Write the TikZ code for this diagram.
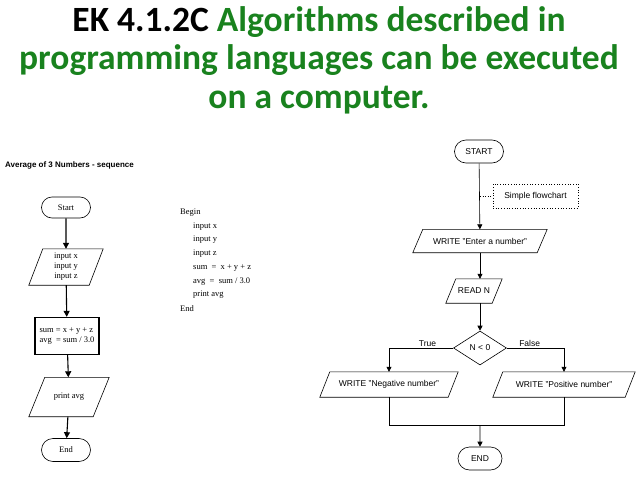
\documentclass[tikz,border=0pt]{standalone}
\usepackage{fontspec}
\setmainfont{Liberation Serif}
\setsansfont{Liberation Sans}
\newfontfamily\titlefont{Carlito}
\usetikzlibrary{shapes.geometric,shapes.misc,arrows.meta}
\definecolor{tgreen}{RGB}{25,130,30}
\tikzset{
  every node/.style={inner sep=0pt},
  arr/.style={-{Triangle[length=5pt,width=5pt]}, line width=0.6pt},
  larr/.style={-{Triangle[length=6pt,width=6pt]}, line width=1.1pt},
  ln/.style={line width=0.6pt},
  term/.style={draw, rounded rectangle, line width=0.6pt},
  para/.style={align=center},
  lserif/.style={font=\fontsize{8.5}{10}\selectfont, align=center},
  rsans/.style={font=\sffamily\fontsize{8.5}{10}\selectfont},
  code/.style={font=\fontsize{8.5}{9}\selectfont, anchor=west},
}
% parallelogram outline around a node: #1 name, #2 slant
\newcommand\pgram[2]{\draw[ln] ([xshift=-#2]#1.south west) -- ([xshift=-#2]#1.south east) -- ([xshift=#2]#1.north east) -- ([xshift=#2]#1.north west) -- cycle;}
\begin{document}
\begin{tikzpicture}[x=1pt,y=-1pt]
\useasboundingbox (0,0) rectangle (638,479);
% title
\node[font=\titlefont\bfseries\fontsize{35.5}{38.5}\selectfont, align=center, text=tgreen] (title) at (319,60)
 {\textcolor{black}{EK 4.1.2C} Algorithms described in\\programming languages can be executed\\on a computer.};
% left flowchart
\node[font=\sffamily\bfseries\fontsize{8}{9}\selectfont, anchor=west] (ltitle) at (5,165) {Average of 3 Numbers - sequence};
\node[term, lserif, minimum width=49pt, minimum height=21pt] (lstart) at (66,207.5) {Start};
\node[para, lserif, minimum width=60pt, minimum height=36pt] (lin) at (66,267) {input x\\input y\\input z};
\pgram{lin}{7pt}
\node[draw, line width=1.3pt, lserif, minimum width=64pt, minimum height=37pt, align=left] (lproc) at (67,336) {sum = x + y + z\\avg \ = sum / 3.0};
\node[para, lserif, minimum width=64pt, minimum height=39pt] (lprint) at (69,397) {print avg};
\pgram{lprint}{8pt}
\node[term, lserif, minimum width=49pt, minimum height=23pt] (lend) at (66,450) {End};
\draw[larr] (lstart) -- (lin);
\draw[larr] (lin) -- (lproc);
\draw[larr] (lproc) -- (lprint);
\draw[larr] (lprint) -- (lend);
% pseudocode
\node[code] (c1) at (180,213) {Begin};
\node[code] (c2) at (193,227) {input x};
\node[code] (c3) at (193,240) {input y};
\node[code] (c4) at (193,254) {input z};
\node[code] (c5) at (193,268) {sum \ = \ x + y + z};
\node[code] (c6) at (193,282) {avg \ = \ sum / 3.0};
\node[code] (c7) at (193,295) {print avg};
\node[code] (c8) at (180,309) {End};
% right flowchart
\node[term, rsans, minimum width=49pt, minimum height=23pt] (rstart) at (479,151.5) {START};
\node[draw, dotted, line width=0.7pt, rsans, minimum width=85pt, minimum height=24pt] (note) at (535.5,196) {Simple flowchart};
\node[para, rsans, minimum width=124pt, minimum height=23pt] (w1) at (480,241) {WRITE "Enter a number"};
\pgram{w1}{5pt}
\node[para, rsans, minimum width=46pt, minimum height=24pt] (rd) at (474,291) {READ N};
\pgram{rd}{5pt}
\node[diamond, draw, line width=0.6pt, rsans, minimum width=53pt, minimum height=34pt, aspect=1.6] (dec) at (480,348) {N < 0};
\node[para, rsans, minimum width=128pt, minimum height=25pt] (neg) at (389,384.5) {WRITE "Negative number"};
\pgram{neg}{5pt}
\node[para, rsans, minimum width=132pt, minimum height=25pt] (pos) at (564,384.5) {WRITE "Positive number"};
\pgram{pos}{5pt}
\node[term, rsans, minimum width=44pt, minimum height=23pt] (rend) at (480,458.5) {END};
\coordinate (nl) at (480,196);
\coordinate (m) at (480,425);
\draw[arr] (rstart) -- (w1);
\draw[ln, dotted] (nl) -- (note.west);
\draw[arr] (w1) -- (w1 |- rd.north);
\draw[arr] (rd.south -| dec) -- (dec);
\draw[arr] (dec.west) -| (neg.north) node[pos=0.2, above=1pt, rsans] (tl) {True};
\draw[arr] (dec.east) -| (pos.north) node[pos=0.2, above=1pt, rsans] (fl) {False};
\draw[ln] (neg.south) |- (m);
\draw[ln] (pos.south) |- (m);
\draw[arr] (m) -- (rend);
\end{tikzpicture}
\end{document}
